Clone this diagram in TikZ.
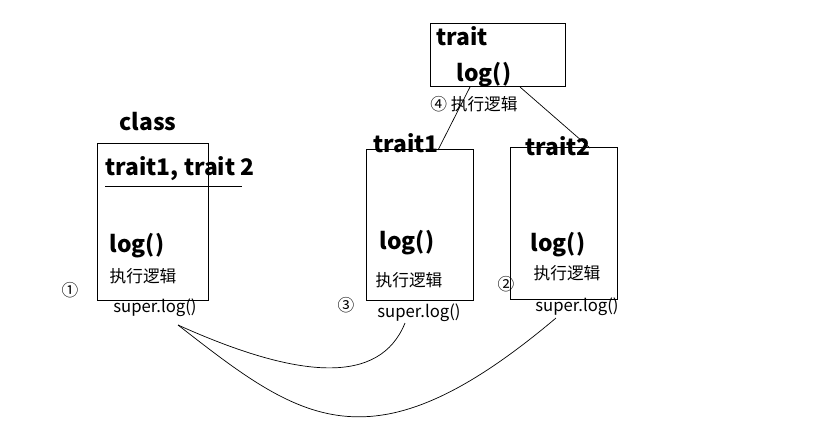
\documentclass[tikz,border=0pt]{standalone}
\usepackage{fontspec}
\setmainfont{Noto Sans CJK SC}
\begin{document}
\begin{tikzpicture}[x=0.02cm,y=-0.02cm]
  \tikzset{
    box/.style={draw, thick, minimum width=#1, inner sep=0pt},
    title/.style={font=\fontsize{13}{15}\selectfont\bfseries},
    small/.style={font=\fontsize{9.5}{11}\selectfont},
    circ/.style={font=\fontsize{9.5}{11}\selectfont}
  }
  \useasboundingbox (0,0) rectangle (835,434);

  %% class
  \draw (97,143) rectangle (208,300);
  \node[title] (cls) at (148,122) {class};
  \node[title] (clstr) at (180,169) {trait1, trait 2};
  \draw (105,186) -- (242,186);
  \node[title] (clslog) at (137,246) {log()};
  \node[small] (clsrun) at (143,276) {执行逻辑};
  \node[small] (clssup) at (155,308) {super.log()};
  \node[circ] (n1) at (70,290) {①};

  %% trait
  \draw (430,23) rectangle (565,86);
  \node[title] (tr) at (462,36) {trait};
  \node[title] (trlog) at (484,75) {log()};
  \node[small] (trrun) at (474,104) {④ 执行逻辑};

  %% trait1
  \draw (366,149) rectangle (473,300);
  \node[title] (t1) at (406,143) {trait1};
  \node[title] (t1log) at (407,243) {log()};
  \node[small] (t1run) at (409,280) {执行逻辑};
  \node[small] (t1sup) at (419,313) {super.log()};
  \node[circ] (n3) at (346,305) {③};

  %% trait2
  \draw (510,147) rectangle (617,299);
  \node[title] (t2) at (558,146) {trait2};
  \node[title] (t2log) at (558,245) {log()};
  \node[small] (t2run) at (567,273) {执行逻辑};
  \node[small] (t2sup) at (577,307) {super.log()};
  \node[circ] (n2) at (506,284) {②};

  % links
  \coordinate (a1) at (438,150);
  \coordinate (a2) at (470,87);
  \coordinate (b1) at (590,148);
  \coordinate (b2) at (520,87);
  \draw (a1) -- (a2);
  \draw (b1) -- (b2);

  % calls
  \coordinate (s0) at (178,325);
  \coordinate (s1) at (405,323);
  \coordinate (s2) at (556,318);
  \draw (s0) .. controls (300,380) and (380,385) .. (s1);
  \draw (s0) .. controls (300,420) and (370,475) .. (s2);
\end{tikzpicture}
\end{document}
